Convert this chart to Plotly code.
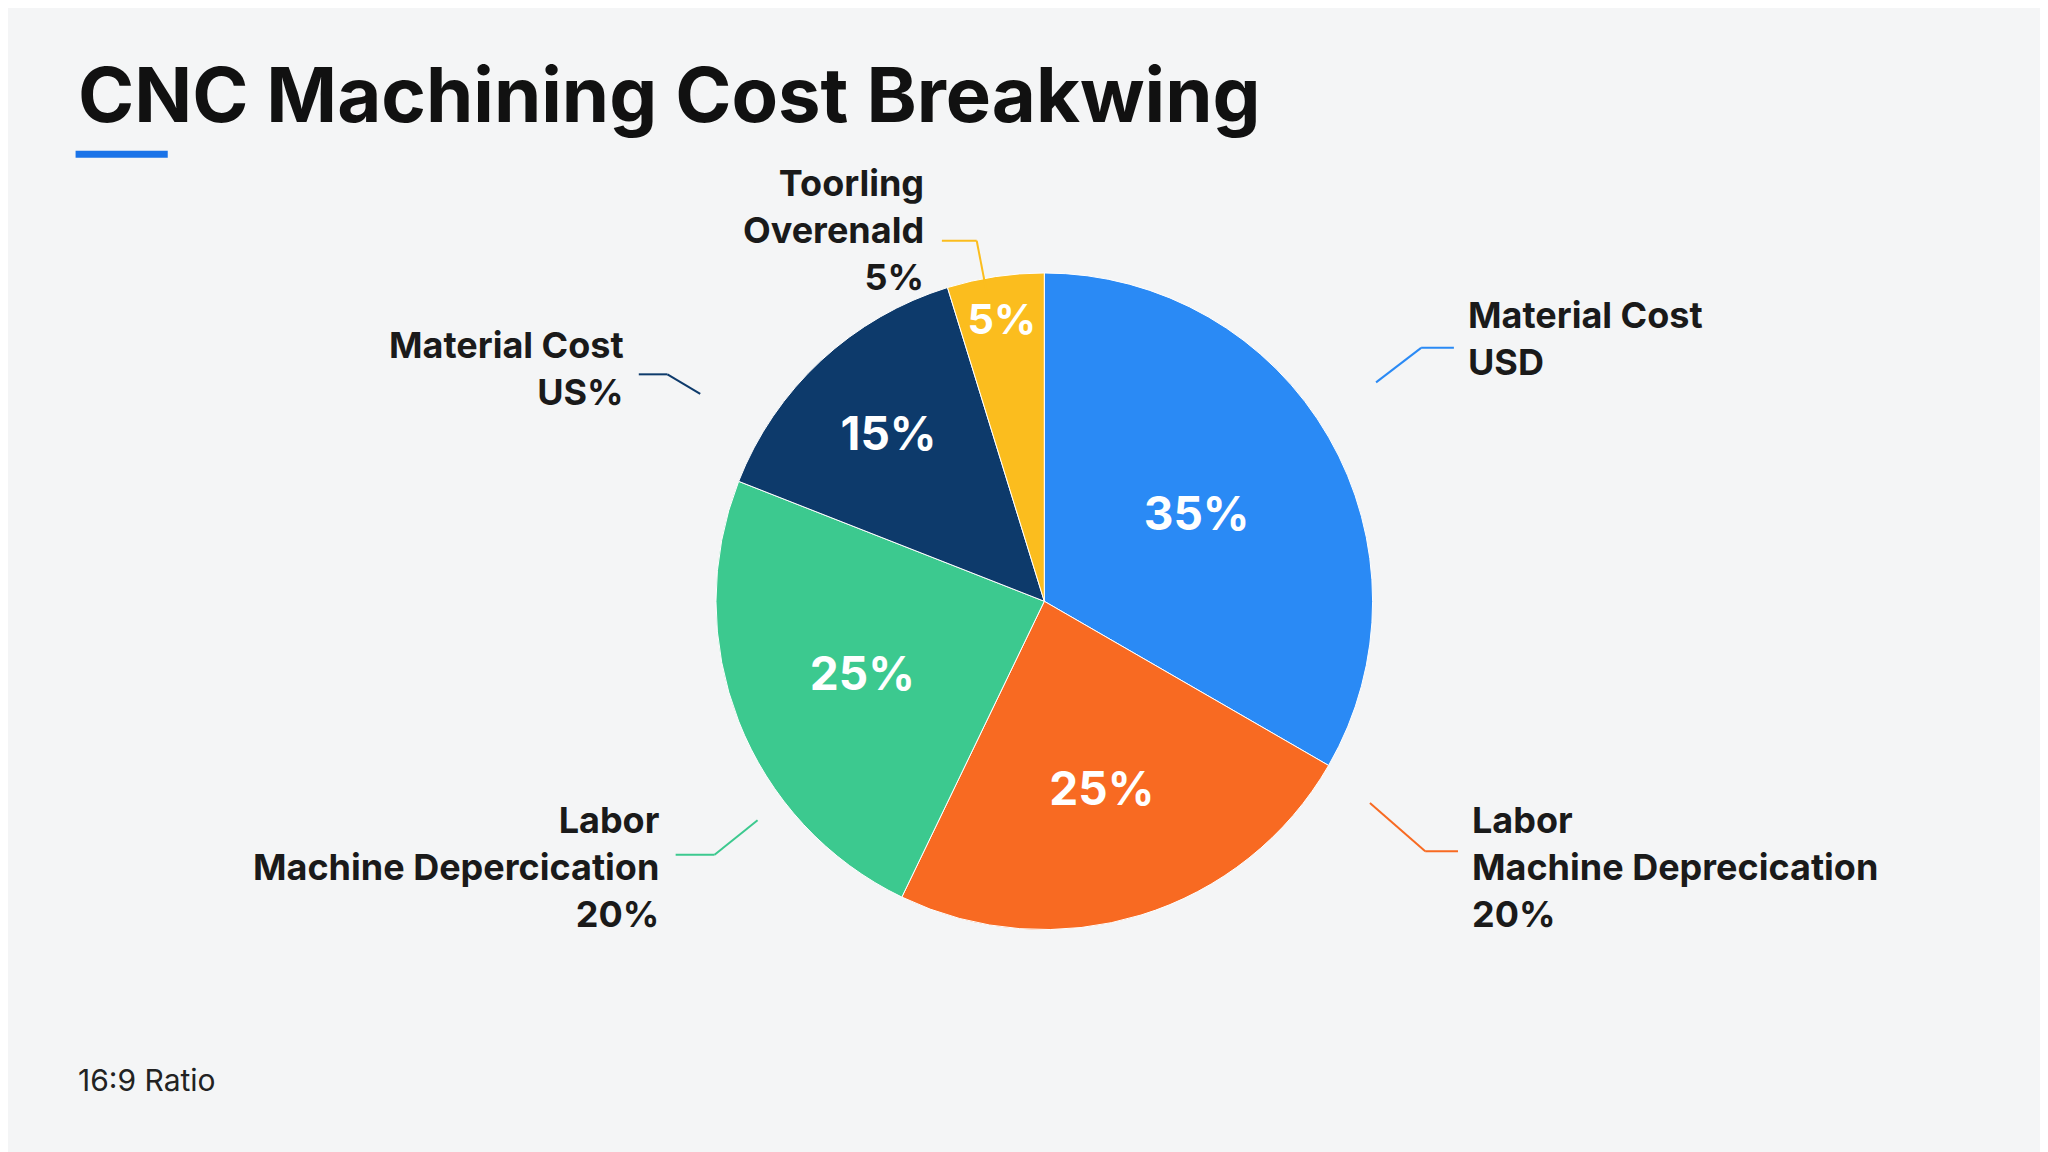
import plotly.graph_objects as go

slices = ["Material Cost USD", "Labor Machine Deprecication", "Labor Machine Depercication", "Material Cost US%", "Toorling Overenald"]
values = [35, 25, 25, 15, 5]
inner_labels = ["35%", "25%", "25%", "15%", "5%"]
colors = ["#2a8af5", "#f86a22", "#3cc98f", "#0d3a6b", "#fbbd1e"]

outer_text = ["Material Cost<br>USD", "Labor<br>Machine Deprecication<br>20%",
              "Labor<br>Machine Depercication<br>20%", "Material Cost<br>US%",
              "Toorling<br>Overenald<br>5%"]
outer_x = [0.712, 0.714, 0.319, 0.302, 0.448]
outer_y = [0.713, 0.254, 0.254, 0.687, 0.807]
outer_anchor = ["left", "left", "right", "right", "right"]

fig = go.Figure(go.Pie(
    labels=slices, values=values, sort=False, direction="clockwise", rotation=0,
    marker=dict(colors=colors, line=dict(color="white", width=1)),
    text=inner_labels, textinfo="text", textposition="inside", insidetextorientation="horizontal",
    textfont=dict(family="Inter", size=46, color="white", weight="bold"),
    domain=dict(x=[0.345, 0.667], y=[0.2, 0.77]), showlegend=False, hoverinfo="label+text",
))

anns = [dict(text="<b>CNC Machining Cost Breakwing</b>", x=0.033, y=0.925, xref="paper", yref="paper",
             xanchor="left", yanchor="middle", showarrow=False,
             font=dict(family="Inter", size=76, color="#111")),
        dict(text="16:9 Ratio", x=0.033, y=0.052, xref="paper", yref="paper", xanchor="left",
             showarrow=False, font=dict(family="Inter", size=30, color="#222"))]
for t, x, y, a in zip(outer_text, outer_x, outer_y, outer_anchor):
    anns.append(dict(text="<b>" + t + "</b>", x=x, y=y, xref="paper", yref="paper", xanchor=a,
                     yanchor="middle", align=a, showarrow=False,
                     font=dict(family="Inter", size=36, color="#1a1a1a")))

lines = [  # leader lines (paper coords)
    ([0.706, 0.69, 0.668], [0.705, 0.705, 0.675], "#2a8af5"),
    ([0.708, 0.692, 0.665], [0.268, 0.268, 0.31], "#f86a22"),
    ([0.326, 0.345, 0.366], [0.265, 0.265, 0.295], "#3cc98f"),
    ([0.308, 0.322, 0.338], [0.682, 0.682, 0.665], "#0d3a6b"),
    ([0.456, 0.473, 0.478], [0.798, 0.798, 0.752], "#fbbd1e"),
]
shapes = [dict(type="line", x0=0.033, x1=0.078, y0=0.873, y1=0.873, xref="paper", yref="paper",
               line=dict(color="#1a73e8", width=7))]
for xs, ys, c in lines:
    for i in range(len(xs) - 1):
        shapes.append(dict(type="line", x0=xs[i], x1=xs[i+1], y0=ys[i], y1=ys[i+1],
                           xref="paper", yref="paper", line=dict(color=c, width=2)))

fig.update_layout(width=2048, height=1152, margin=dict(l=0, r=0, t=0, b=0),
                  paper_bgcolor="#f4f5f6", plot_bgcolor="#f4f5f6",
                  annotations=anns, shapes=shapes)
fig.write_html("out.html")
